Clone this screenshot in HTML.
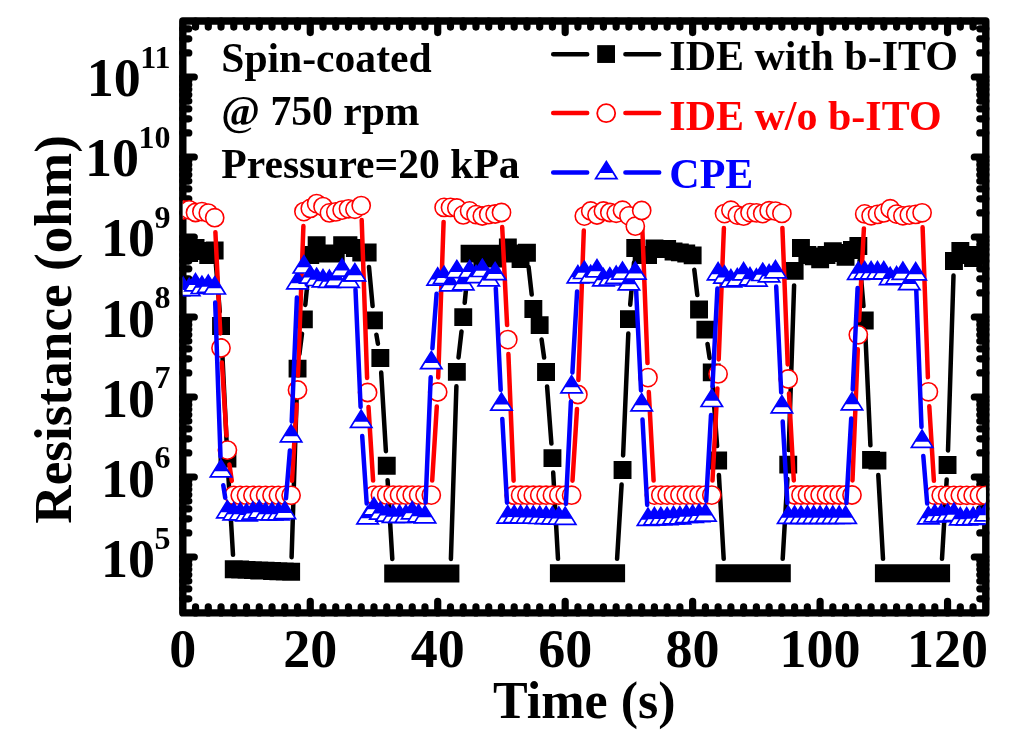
<!DOCTYPE html>
<html><head><meta charset="utf-8"><style>
html,body{margin:0;padding:0;background:#fff;width:1024px;height:746px;overflow:hidden}
svg{display:block}
</style></head><body>
<svg width="1024" height="746" viewBox="0 0 1024 746">
<rect width="1024" height="746" fill="#fff"/>
<defs><clipPath id="pc"><rect x="182.8" y="21.06" width="803.00" height="591.84"/></clipPath></defs>
<g font-family="'Liberation Serif', 'Times New Roman', serif" font-weight="bold">
<rect x="182.8" y="21.06" width="803.00" height="591.84" fill="none" stroke="#000" stroke-width="7.4" stroke-linejoin="round"/>
<path d="M195.55 612.90L195.55 606.90M195.55 21.06L195.55 27.06M208.29 612.90L208.29 606.90M208.29 21.06L208.29 27.06M221.04 612.90L221.04 606.90M221.04 21.06L221.04 27.06M233.78 612.90L233.78 606.90M233.78 21.06L233.78 27.06M246.53 612.90L246.53 606.90M246.53 21.06L246.53 27.06M259.28 612.90L259.28 606.90M259.28 21.06L259.28 27.06M272.02 612.90L272.02 606.90M272.02 21.06L272.02 27.06M284.77 612.90L284.77 606.90M284.77 21.06L284.77 27.06M297.51 612.90L297.51 606.90M297.51 21.06L297.51 27.06M310.26 612.90L310.26 601.40M310.26 21.06L310.26 32.56M323.01 612.90L323.01 606.90M323.01 21.06L323.01 27.06M335.75 612.90L335.75 606.90M335.75 21.06L335.75 27.06M348.50 612.90L348.50 606.90M348.50 21.06L348.50 27.06M361.24 612.90L361.24 606.90M361.24 21.06L361.24 27.06M373.99 612.90L373.99 606.90M373.99 21.06L373.99 27.06M386.74 612.90L386.74 606.90M386.74 21.06L386.74 27.06M399.48 612.90L399.48 606.90M399.48 21.06L399.48 27.06M412.23 612.90L412.23 606.90M412.23 21.06L412.23 27.06M424.97 612.90L424.97 606.90M424.97 21.06L424.97 27.06M437.72 612.90L437.72 601.40M437.72 21.06L437.72 32.56M450.47 612.90L450.47 606.90M450.47 21.06L450.47 27.06M463.21 612.90L463.21 606.90M463.21 21.06L463.21 27.06M475.96 612.90L475.96 606.90M475.96 21.06L475.96 27.06M488.70 612.90L488.70 606.90M488.70 21.06L488.70 27.06M501.45 612.90L501.45 606.90M501.45 21.06L501.45 27.06M514.20 612.90L514.20 606.90M514.20 21.06L514.20 27.06M526.94 612.90L526.94 606.90M526.94 21.06L526.94 27.06M539.69 612.90L539.69 606.90M539.69 21.06L539.69 27.06M552.43 612.90L552.43 606.90M552.43 21.06L552.43 27.06M565.18 612.90L565.18 601.40M565.18 21.06L565.18 32.56M577.93 612.90L577.93 606.90M577.93 21.06L577.93 27.06M590.67 612.90L590.67 606.90M590.67 21.06L590.67 27.06M603.42 612.90L603.42 606.90M603.42 21.06L603.42 27.06M616.16 612.90L616.16 606.90M616.16 21.06L616.16 27.06M628.91 612.90L628.91 606.90M628.91 21.06L628.91 27.06M641.66 612.90L641.66 606.90M641.66 21.06L641.66 27.06M654.40 612.90L654.40 606.90M654.40 21.06L654.40 27.06M667.15 612.90L667.15 606.90M667.15 21.06L667.15 27.06M679.89 612.90L679.89 606.90M679.89 21.06L679.89 27.06M692.64 612.90L692.64 601.40M692.64 21.06L692.64 32.56M705.39 612.90L705.39 606.90M705.39 21.06L705.39 27.06M718.13 612.90L718.13 606.90M718.13 21.06L718.13 27.06M730.88 612.90L730.88 606.90M730.88 21.06L730.88 27.06M743.62 612.90L743.62 606.90M743.62 21.06L743.62 27.06M756.37 612.90L756.37 606.90M756.37 21.06L756.37 27.06M769.12 612.90L769.12 606.90M769.12 21.06L769.12 27.06M781.86 612.90L781.86 606.90M781.86 21.06L781.86 27.06M794.61 612.90L794.61 606.90M794.61 21.06L794.61 27.06M807.35 612.90L807.35 606.90M807.35 21.06L807.35 27.06M820.10 612.90L820.10 601.40M820.10 21.06L820.10 32.56M832.85 612.90L832.85 606.90M832.85 21.06L832.85 27.06M845.59 612.90L845.59 606.90M845.59 21.06L845.59 27.06M858.34 612.90L858.34 606.90M858.34 21.06L858.34 27.06M871.08 612.90L871.08 606.90M871.08 21.06L871.08 27.06M883.83 612.90L883.83 606.90M883.83 21.06L883.83 27.06M896.58 612.90L896.58 606.90M896.58 21.06L896.58 27.06M909.32 612.90L909.32 606.90M909.32 21.06L909.32 27.06M922.07 612.90L922.07 606.90M922.07 21.06L922.07 27.06M934.81 612.90L934.81 606.90M934.81 21.06L934.81 27.06M947.56 612.90L947.56 601.40M947.56 21.06L947.56 32.56M960.31 612.90L960.31 606.90M960.31 21.06L960.31 27.06M973.05 612.90L973.05 606.90M973.05 21.06L973.05 27.06M182.80 598.81L188.80 598.81M985.80 598.81L979.80 598.81M182.80 588.82L188.80 588.82M985.80 588.82L979.80 588.82M182.80 581.06L188.80 581.06M985.80 581.06L979.80 581.06M182.80 574.73L188.80 574.73M985.80 574.73L979.80 574.73M182.80 569.37L188.80 569.37M985.80 569.37L979.80 569.37M182.80 564.74L188.80 564.74M985.80 564.74L979.80 564.74M182.80 560.64L188.80 560.64M985.80 560.64L979.80 560.64M182.80 556.98L194.30 556.98M985.80 556.98L974.30 556.98M182.80 532.90L188.80 532.90M985.80 532.90L979.80 532.90M182.80 518.81L188.80 518.81M985.80 518.81L979.80 518.81M182.80 508.82L188.80 508.82M985.80 508.82L979.80 508.82M182.80 501.06L188.80 501.06M985.80 501.06L979.80 501.06M182.80 494.73L188.80 494.73M985.80 494.73L979.80 494.73M182.80 489.37L188.80 489.37M985.80 489.37L979.80 489.37M182.80 484.74L188.80 484.74M985.80 484.74L979.80 484.74M182.80 480.64L188.80 480.64M985.80 480.64L979.80 480.64M182.80 476.98L194.30 476.98M985.80 476.98L974.30 476.98M182.80 452.90L188.80 452.90M985.80 452.90L979.80 452.90M182.80 438.81L188.80 438.81M985.80 438.81L979.80 438.81M182.80 428.82L188.80 428.82M985.80 428.82L979.80 428.82M182.80 421.06L188.80 421.06M985.80 421.06L979.80 421.06M182.80 414.73L188.80 414.73M985.80 414.73L979.80 414.73M182.80 409.37L188.80 409.37M985.80 409.37L979.80 409.37M182.80 404.74L188.80 404.74M985.80 404.74L979.80 404.74M182.80 400.64L188.80 400.64M985.80 400.64L979.80 400.64M182.80 396.98L194.30 396.98M985.80 396.98L974.30 396.98M182.80 372.90L188.80 372.90M985.80 372.90L979.80 372.90M182.80 358.81L188.80 358.81M985.80 358.81L979.80 358.81M182.80 348.82L188.80 348.82M985.80 348.82L979.80 348.82M182.80 341.06L188.80 341.06M985.80 341.06L979.80 341.06M182.80 334.73L188.80 334.73M985.80 334.73L979.80 334.73M182.80 329.37L188.80 329.37M985.80 329.37L979.80 329.37M182.80 324.74L188.80 324.74M985.80 324.74L979.80 324.74M182.80 320.64L188.80 320.64M985.80 320.64L979.80 320.64M182.80 316.98L194.30 316.98M985.80 316.98L974.30 316.98M182.80 292.90L188.80 292.90M985.80 292.90L979.80 292.90M182.80 278.81L188.80 278.81M985.80 278.81L979.80 278.81M182.80 268.82L188.80 268.82M985.80 268.82L979.80 268.82M182.80 261.06L188.80 261.06M985.80 261.06L979.80 261.06M182.80 254.73L188.80 254.73M985.80 254.73L979.80 254.73M182.80 249.37L188.80 249.37M985.80 249.37L979.80 249.37M182.80 244.74L188.80 244.74M985.80 244.74L979.80 244.74M182.80 240.64L188.80 240.64M985.80 240.64L979.80 240.64M182.80 236.98L194.30 236.98M985.80 236.98L974.30 236.98M182.80 212.90L188.80 212.90M985.80 212.90L979.80 212.90M182.80 198.81L188.80 198.81M985.80 198.81L979.80 198.81M182.80 188.82L188.80 188.82M985.80 188.82L979.80 188.82M182.80 181.06L188.80 181.06M985.80 181.06L979.80 181.06M182.80 174.73L188.80 174.73M985.80 174.73L979.80 174.73M182.80 169.37L188.80 169.37M985.80 169.37L979.80 169.37M182.80 164.74L188.80 164.74M985.80 164.74L979.80 164.74M182.80 160.64L188.80 160.64M985.80 160.64L979.80 160.64M182.80 156.98L194.30 156.98M985.80 156.98L974.30 156.98M182.80 132.90L188.80 132.90M985.80 132.90L979.80 132.90M182.80 118.81L188.80 118.81M985.80 118.81L979.80 118.81M182.80 108.82L188.80 108.82M985.80 108.82L979.80 108.82M182.80 101.06L188.80 101.06M985.80 101.06L979.80 101.06M182.80 94.73L188.80 94.73M985.80 94.73L979.80 94.73M182.80 89.37L188.80 89.37M985.80 89.37L979.80 89.37M182.80 84.74L188.80 84.74M985.80 84.74L979.80 84.74M182.80 80.64L188.80 80.64M985.80 80.64L979.80 80.64M182.80 76.98L194.30 76.98M985.80 76.98L974.30 76.98M182.80 52.90L188.80 52.90M985.80 52.90L979.80 52.90M182.80 38.81L188.80 38.81M985.80 38.81L979.80 38.81M182.80 28.82L188.80 28.82M985.80 28.82L979.80 28.82" stroke="#000" stroke-width="7.2" stroke-linecap="round" fill="none"/>
<g clip-path="url(#pc)">
<path d="M215.9 264.9L219.8 311.6M221.7 340.5L226.7 444.1M228.2 473.1L233.0 554.8M291.6 557.3L297.1 383.1M299.4 354.2L302.0 333.7M305.3 304.9L308.8 269.4M369.0 266.9L372.6 306.0M376.4 334.7L377.9 343.7M381.2 372.5L385.9 451.2M387.6 480.2L392.3 559.0M450.9 559.0L456.4 386.3M458.5 357.4L461.5 331.6M464.7 302.8L468.1 268.0M528.6 267.1L531.7 294.6M541.6 339.6L544.1 357.6M547.1 386.5L551.4 443.6M553.2 472.6L558.0 558.8M617.1 558.8L621.6 484.5M623.1 455.5L628.3 333.6M630.2 304.7L634.0 262.4M694.3 269.7L697.3 295.1M707.5 343.9L709.6 358.0M712.8 386.8L717.1 446.0M718.9 475.0L723.7 558.8M782.7 558.8L787.4 479.1M788.7 450.1L794.1 285.4M859.6 260.4L863.5 306.1M865.4 335.0L870.4 445.3M878.3 475.1L883.0 558.8M942.0 558.8L946.7 479.5M948.0 450.5L953.5 275.5" stroke="#000" stroke-width="4.5" stroke-linecap="round" fill="none"/>
<path d="M173.9 243.1h17.9v17.9h-17.9zM180.2 244.1h17.9v17.9h-17.9zM186.6 239.1h17.9v17.9h-17.9zM193.0 242.1h17.9v17.9h-17.9zM199.3 246.1h17.9v17.9h-17.9zM205.7 241.6h17.9v17.9h-17.9zM212.1 317.1h17.9v17.9h-17.9zM218.5 449.7h17.9v17.9h-17.9zM224.8 560.3h17.9v17.9h-17.9zM231.2 560.6h17.9v17.9h-17.9zM237.6 560.9h17.9v17.9h-17.9zM244.0 561.2h17.9v17.9h-17.9zM250.3 561.5h17.9v17.9h-17.9zM256.7 561.7h17.9v17.9h-17.9zM263.1 562.0h17.9v17.9h-17.9zM269.4 562.3h17.9v17.9h-17.9zM275.8 562.6h17.9v17.9h-17.9zM282.2 562.8h17.9v17.9h-17.9zM288.6 359.7h17.9v17.9h-17.9zM294.9 310.4h17.9v17.9h-17.9zM301.3 246.1h17.9v17.9h-17.9zM307.7 236.2h17.9v17.9h-17.9zM314.1 244.6h17.9v17.9h-17.9zM320.4 244.6h17.9v17.9h-17.9zM326.8 244.6h17.9v17.9h-17.9zM333.2 236.2h17.9v17.9h-17.9zM339.5 236.2h17.9v17.9h-17.9zM345.9 239.1h17.9v17.9h-17.9zM352.3 243.6h17.9v17.9h-17.9zM358.7 243.6h17.9v17.9h-17.9zM365.0 311.4h17.9v17.9h-17.9zM371.4 349.1h17.9v17.9h-17.9zM377.8 456.8h17.9v17.9h-17.9zM384.2 564.5h17.9v17.9h-17.9zM390.5 564.5h17.9v17.9h-17.9zM396.9 564.5h17.9v17.9h-17.9zM403.3 564.5h17.9v17.9h-17.9zM409.7 564.5h17.9v17.9h-17.9zM416.0 564.5h17.9v17.9h-17.9zM422.4 564.5h17.9v17.9h-17.9zM428.8 564.5h17.9v17.9h-17.9zM435.1 564.5h17.9v17.9h-17.9zM441.5 564.5h17.9v17.9h-17.9zM447.9 362.9h17.9v17.9h-17.9zM454.3 308.2h17.9v17.9h-17.9zM460.6 244.7h17.9v17.9h-17.9zM467.0 244.7h17.9v17.9h-17.9zM473.4 249.6h17.9v17.9h-17.9zM479.8 244.7h17.9v17.9h-17.9zM486.1 249.6h17.9v17.9h-17.9zM492.5 244.7h17.9v17.9h-17.9zM498.9 238.4h17.9v17.9h-17.9zM505.2 244.6h17.9v17.9h-17.9zM511.6 250.2h17.9v17.9h-17.9zM518.0 243.8h17.9v17.9h-17.9zM524.4 300.1h17.9v17.9h-17.9zM530.7 316.2h17.9v17.9h-17.9zM537.1 363.1h17.9v17.9h-17.9zM543.5 449.2h17.9v17.9h-17.9zM549.9 564.3h17.9v17.9h-17.9zM556.2 564.3h17.9v17.9h-17.9zM562.6 564.3h17.9v17.9h-17.9zM569.0 564.3h17.9v17.9h-17.9zM575.3 564.3h17.9v17.9h-17.9zM581.7 564.3h17.9v17.9h-17.9zM588.1 564.3h17.9v17.9h-17.9zM594.5 564.3h17.9v17.9h-17.9zM600.8 564.3h17.9v17.9h-17.9zM607.2 564.3h17.9v17.9h-17.9zM613.6 461.1h17.9v17.9h-17.9zM620.0 310.2h17.9v17.9h-17.9zM626.3 239.1h17.9v17.9h-17.9zM632.7 246.1h17.9v17.9h-17.9zM639.1 246.1h17.9v17.9h-17.9zM645.5 239.6h17.9v17.9h-17.9zM651.8 240.1h17.9v17.9h-17.9zM658.2 240.1h17.9v17.9h-17.9zM664.6 242.6h17.9v17.9h-17.9zM670.9 243.4h17.9v17.9h-17.9zM677.3 244.5h17.9v17.9h-17.9zM683.7 246.4h17.9v17.9h-17.9zM690.1 300.6h17.9v17.9h-17.9zM696.4 320.7h17.9v17.9h-17.9zM702.8 363.4h17.9v17.9h-17.9zM709.2 451.6h17.9v17.9h-17.9zM715.6 564.3h17.9v17.9h-17.9zM721.9 564.3h17.9v17.9h-17.9zM728.3 564.3h17.9v17.9h-17.9zM734.7 564.3h17.9v17.9h-17.9zM741.0 564.3h17.9v17.9h-17.9zM747.4 564.3h17.9v17.9h-17.9zM753.8 564.3h17.9v17.9h-17.9zM760.2 564.3h17.9v17.9h-17.9zM766.5 564.3h17.9v17.9h-17.9zM772.9 564.3h17.9v17.9h-17.9zM779.3 455.7h17.9v17.9h-17.9zM785.7 261.9h17.9v17.9h-17.9zM792.0 239.1h17.9v17.9h-17.9zM798.4 246.1h17.9v17.9h-17.9zM804.8 247.4h17.9v17.9h-17.9zM811.2 250.4h17.9v17.9h-17.9zM817.5 246.1h17.9v17.9h-17.9zM823.9 242.2h17.9v17.9h-17.9zM830.3 244.1h17.9v17.9h-17.9zM836.6 247.9h17.9v17.9h-17.9zM843.0 241.1h17.9v17.9h-17.9zM849.4 237.1h17.9v17.9h-17.9zM855.8 311.6h17.9v17.9h-17.9zM862.1 450.9h17.9v17.9h-17.9zM868.5 451.7h17.9v17.9h-17.9zM874.9 564.3h17.9v17.9h-17.9zM881.3 564.3h17.9v17.9h-17.9zM887.6 564.3h17.9v17.9h-17.9zM894.0 564.3h17.9v17.9h-17.9zM900.4 564.3h17.9v17.9h-17.9zM906.7 564.3h17.9v17.9h-17.9zM913.1 564.3h17.9v17.9h-17.9zM919.5 564.3h17.9v17.9h-17.9zM925.9 564.3h17.9v17.9h-17.9zM932.2 564.3h17.9v17.9h-17.9zM938.6 456.1h17.9v17.9h-17.9zM945.0 252.1h17.9v17.9h-17.9zM951.4 242.1h17.9v17.9h-17.9zM957.7 246.1h17.9v17.9h-17.9zM964.1 249.1h17.9v17.9h-17.9zM970.5 246.1h17.9v17.9h-17.9zM976.8 246.1h17.9v17.9h-17.9z" fill="#000"/>
<path d="M215.4 232.2L220.3 333.5M221.9 362.5L226.5 435.6M229.4 464.5L231.8 480.9M292.0 480.8L296.6 404.5M298.0 375.5L303.4 226.1M361.7 220.1L367.1 378.0M368.5 407.0L373.1 480.6M432.2 480.6L436.8 406.5M438.2 377.5L443.6 221.9M502.2 227.0L507.1 325.1M508.4 354.1L513.6 480.7M572.5 480.7L577.0 409.0M578.4 380.0L583.8 230.6M642.2 225.0L647.5 363.1M648.8 392.1L653.6 480.6M712.5 480.6L717.4 388.4M718.7 359.4L723.9 228.1M782.4 227.9L787.7 364.5M789.0 393.5L793.8 480.5M852.5 480.5L857.8 349.3M859.1 320.3L863.9 228.4M922.6 227.3L927.9 377.3M929.3 406.3L933.9 480.8" stroke="#f00" stroke-width="4.5" stroke-linecap="round" fill="none"/>
<g fill="#fff" stroke="#f00" stroke-width="1.6"><circle cx="182.8" cy="210.0" r="9.1"/><circle cx="189.2" cy="209.8" r="9.1"/><circle cx="195.5" cy="212.5" r="9.1"/><circle cx="201.9" cy="211.6" r="9.1"/><circle cx="208.3" cy="213.1" r="9.1"/><circle cx="214.7" cy="217.7" r="9.1"/><circle cx="221.0" cy="348.0" r="9.1"/><circle cx="227.4" cy="450.1" r="9.1"/><circle cx="233.8" cy="495.3" r="9.1"/><circle cx="240.2" cy="495.3" r="9.1"/><circle cx="246.5" cy="495.3" r="9.1"/><circle cx="252.9" cy="495.3" r="9.1"/><circle cx="259.3" cy="495.3" r="9.1"/><circle cx="265.6" cy="495.3" r="9.1"/><circle cx="272.0" cy="495.3" r="9.1"/><circle cx="278.4" cy="495.3" r="9.1"/><circle cx="284.8" cy="495.3" r="9.1"/><circle cx="291.1" cy="495.3" r="9.1"/><circle cx="297.5" cy="390.0" r="9.1"/><circle cx="303.9" cy="211.6" r="9.1"/><circle cx="310.3" cy="208.4" r="9.1"/><circle cx="316.6" cy="203.6" r="9.1"/><circle cx="323.0" cy="206.6" r="9.1"/><circle cx="329.4" cy="212.9" r="9.1"/><circle cx="335.8" cy="211.9" r="9.1"/><circle cx="342.1" cy="210.1" r="9.1"/><circle cx="348.5" cy="208.8" r="9.1"/><circle cx="354.9" cy="209.3" r="9.1"/><circle cx="361.2" cy="205.6" r="9.1"/><circle cx="367.6" cy="392.5" r="9.1"/><circle cx="374.0" cy="495.1" r="9.1"/><circle cx="380.4" cy="495.1" r="9.1"/><circle cx="386.7" cy="495.1" r="9.1"/><circle cx="393.1" cy="495.1" r="9.1"/><circle cx="399.5" cy="495.1" r="9.1"/><circle cx="405.9" cy="495.1" r="9.1"/><circle cx="412.2" cy="495.1" r="9.1"/><circle cx="418.6" cy="495.1" r="9.1"/><circle cx="425.0" cy="495.1" r="9.1"/><circle cx="431.3" cy="495.1" r="9.1"/><circle cx="437.7" cy="392.0" r="9.1"/><circle cx="444.1" cy="207.4" r="9.1"/><circle cx="450.5" cy="207.4" r="9.1"/><circle cx="456.8" cy="208.0" r="9.1"/><circle cx="463.2" cy="214.9" r="9.1"/><circle cx="469.6" cy="210.9" r="9.1"/><circle cx="476.0" cy="214.6" r="9.1"/><circle cx="482.3" cy="216.0" r="9.1"/><circle cx="488.7" cy="214.6" r="9.1"/><circle cx="495.1" cy="214.0" r="9.1"/><circle cx="501.5" cy="212.5" r="9.1"/><circle cx="507.8" cy="339.6" r="9.1"/><circle cx="514.2" cy="495.2" r="9.1"/><circle cx="520.6" cy="495.2" r="9.1"/><circle cx="526.9" cy="495.2" r="9.1"/><circle cx="533.3" cy="495.2" r="9.1"/><circle cx="539.7" cy="495.2" r="9.1"/><circle cx="546.1" cy="495.2" r="9.1"/><circle cx="552.4" cy="495.2" r="9.1"/><circle cx="558.8" cy="495.2" r="9.1"/><circle cx="565.2" cy="495.2" r="9.1"/><circle cx="571.6" cy="495.2" r="9.1"/><circle cx="577.9" cy="394.5" r="9.1"/><circle cx="584.3" cy="216.1" r="9.1"/><circle cx="590.7" cy="211.0" r="9.1"/><circle cx="597.0" cy="215.0" r="9.1"/><circle cx="603.4" cy="211.0" r="9.1"/><circle cx="609.8" cy="212.5" r="9.1"/><circle cx="616.2" cy="213.3" r="9.1"/><circle cx="622.5" cy="210.2" r="9.1"/><circle cx="628.9" cy="215.8" r="9.1"/><circle cx="635.3" cy="226.2" r="9.1"/><circle cx="641.7" cy="210.5" r="9.1"/><circle cx="648.0" cy="377.6" r="9.1"/><circle cx="654.4" cy="495.1" r="9.1"/><circle cx="660.8" cy="495.1" r="9.1"/><circle cx="667.1" cy="495.1" r="9.1"/><circle cx="673.5" cy="495.1" r="9.1"/><circle cx="679.9" cy="495.1" r="9.1"/><circle cx="686.3" cy="495.1" r="9.1"/><circle cx="692.6" cy="495.1" r="9.1"/><circle cx="699.0" cy="495.1" r="9.1"/><circle cx="705.4" cy="495.1" r="9.1"/><circle cx="711.8" cy="495.1" r="9.1"/><circle cx="718.1" cy="373.9" r="9.1"/><circle cx="724.5" cy="213.6" r="9.1"/><circle cx="730.9" cy="210.2" r="9.1"/><circle cx="737.3" cy="215.1" r="9.1"/><circle cx="743.6" cy="216.2" r="9.1"/><circle cx="750.0" cy="212.6" r="9.1"/><circle cx="756.4" cy="212.9" r="9.1"/><circle cx="762.7" cy="213.6" r="9.1"/><circle cx="769.1" cy="210.7" r="9.1"/><circle cx="775.5" cy="211.1" r="9.1"/><circle cx="781.9" cy="213.4" r="9.1"/><circle cx="788.2" cy="379.0" r="9.1"/><circle cx="794.6" cy="495.0" r="9.1"/><circle cx="801.0" cy="495.0" r="9.1"/><circle cx="807.4" cy="495.0" r="9.1"/><circle cx="813.7" cy="495.0" r="9.1"/><circle cx="820.1" cy="495.0" r="9.1"/><circle cx="826.5" cy="495.0" r="9.1"/><circle cx="832.8" cy="495.0" r="9.1"/><circle cx="839.2" cy="495.0" r="9.1"/><circle cx="845.6" cy="495.0" r="9.1"/><circle cx="852.0" cy="495.0" r="9.1"/><circle cx="858.3" cy="334.8" r="9.1"/><circle cx="864.7" cy="213.9" r="9.1"/><circle cx="871.1" cy="215.8" r="9.1"/><circle cx="877.5" cy="214.4" r="9.1"/><circle cx="883.8" cy="212.9" r="9.1"/><circle cx="890.2" cy="208.7" r="9.1"/><circle cx="896.6" cy="214.1" r="9.1"/><circle cx="902.9" cy="215.8" r="9.1"/><circle cx="909.3" cy="215.1" r="9.1"/><circle cx="915.7" cy="214.4" r="9.1"/><circle cx="922.1" cy="212.8" r="9.1"/><circle cx="928.4" cy="391.8" r="9.1"/><circle cx="934.8" cy="495.3" r="9.1"/><circle cx="941.2" cy="495.3" r="9.1"/><circle cx="947.6" cy="495.3" r="9.1"/><circle cx="953.9" cy="495.3" r="9.1"/><circle cx="960.3" cy="495.3" r="9.1"/><circle cx="966.7" cy="495.3" r="9.1"/><circle cx="973.1" cy="495.3" r="9.1"/><circle cx="979.4" cy="495.3" r="9.1"/><circle cx="985.8" cy="495.3" r="9.1"/></g>
<path d="M215.2 302.6L220.5 456.5M223.3 485.3L225.2 497.7M286.0 498.3L289.9 450.5M291.7 421.5L296.9 297.5M355.5 289.5L360.6 407.0M362.2 436.0L366.7 503.5M425.6 502.5L430.7 377.3M432.4 348.3L436.6 293.7M495.8 288.3L500.7 389.9M502.3 418.9L507.0 502.7M565.9 504.0L570.9 401.5M572.4 372.5L577.1 291.5M636.0 287.9L641.0 390.5M642.5 419.5L647.2 505.0M706.2 500.8L711.0 415.1M712.5 386.1L717.4 288.5M776.2 286.5L781.2 392.5M782.7 421.5L787.4 503.0M846.4 503.0L851.2 418.5M852.7 389.5L857.6 288.0M916.2 288.5L921.5 427.0M923.3 455.9L927.2 503.6" stroke="#00f" stroke-width="4.5" stroke-linecap="round" fill="none"/>
<g><path d="M182.8 276.7L193.5 293.9H172.1Z" fill="#fff" stroke="#00f" stroke-width="1.7" stroke-linejoin="miter"/><path d="M182.8 276.7L190.0 288.2H175.6Z" fill="#00f"/><path d="M189.2 278.4L199.9 295.6H178.5Z" fill="#fff" stroke="#00f" stroke-width="1.7" stroke-linejoin="miter"/><path d="M189.2 278.4L196.3 289.9H182.0Z" fill="#00f"/><path d="M195.5 273.6L206.2 290.8H184.8Z" fill="#fff" stroke="#00f" stroke-width="1.7" stroke-linejoin="miter"/><path d="M195.5 273.6L202.7 285.1H188.4Z" fill="#00f"/><path d="M201.9 276.3L212.6 293.5H191.2Z" fill="#fff" stroke="#00f" stroke-width="1.7" stroke-linejoin="miter"/><path d="M201.9 276.3L209.1 287.8H194.7Z" fill="#00f"/><path d="M208.3 275.2L219.0 292.4H197.6Z" fill="#fff" stroke="#00f" stroke-width="1.7" stroke-linejoin="miter"/><path d="M208.3 275.2L215.5 286.7H201.1Z" fill="#00f"/><path d="M214.7 276.8L225.4 294.0H204.0Z" fill="#fff" stroke="#00f" stroke-width="1.7" stroke-linejoin="miter"/><path d="M214.7 276.8L221.8 288.3H207.5Z" fill="#00f"/><path d="M221.0 459.7L231.7 476.9H210.3Z" fill="#fff" stroke="#00f" stroke-width="1.7" stroke-linejoin="miter"/><path d="M221.0 459.7L228.2 471.2H213.9Z" fill="#00f"/><path d="M227.4 500.7L238.1 517.9H216.7Z" fill="#fff" stroke="#00f" stroke-width="1.7" stroke-linejoin="miter"/><path d="M227.4 500.7L234.6 512.2H220.2Z" fill="#00f"/><path d="M233.8 502.7L244.5 519.9H223.1Z" fill="#fff" stroke="#00f" stroke-width="1.7" stroke-linejoin="miter"/><path d="M233.8 502.7L241.0 514.2H226.6Z" fill="#00f"/><path d="M240.2 502.7L250.9 519.9H229.5Z" fill="#fff" stroke="#00f" stroke-width="1.7" stroke-linejoin="miter"/><path d="M240.2 502.7L247.3 514.2H233.0Z" fill="#00f"/><path d="M246.5 503.6L257.2 520.8H235.8Z" fill="#fff" stroke="#00f" stroke-width="1.7" stroke-linejoin="miter"/><path d="M246.5 503.6L253.7 515.1H239.4Z" fill="#00f"/><path d="M252.9 501.9L263.6 519.1H242.2Z" fill="#fff" stroke="#00f" stroke-width="1.7" stroke-linejoin="miter"/><path d="M252.9 501.9L260.1 513.4H245.7Z" fill="#00f"/><path d="M259.3 500.7L270.0 517.9H248.6Z" fill="#fff" stroke="#00f" stroke-width="1.7" stroke-linejoin="miter"/><path d="M259.3 500.7L266.5 512.2H252.1Z" fill="#00f"/><path d="M265.6 502.7L276.3 519.9H254.9Z" fill="#fff" stroke="#00f" stroke-width="1.7" stroke-linejoin="miter"/><path d="M265.6 502.7L272.8 514.2H258.5Z" fill="#00f"/><path d="M272.0 502.7L282.7 519.9H261.3Z" fill="#fff" stroke="#00f" stroke-width="1.7" stroke-linejoin="miter"/><path d="M272.0 502.7L279.2 514.2H264.8Z" fill="#00f"/><path d="M278.4 502.7L289.1 519.9H267.7Z" fill="#fff" stroke="#00f" stroke-width="1.7" stroke-linejoin="miter"/><path d="M278.4 502.7L285.6 514.2H271.2Z" fill="#00f"/><path d="M284.8 501.5L295.5 518.6H274.1Z" fill="#fff" stroke="#00f" stroke-width="1.7" stroke-linejoin="miter"/><path d="M284.8 501.5L291.9 513.0H277.6Z" fill="#00f"/><path d="M291.1 424.7L301.8 441.9H280.4Z" fill="#fff" stroke="#00f" stroke-width="1.7" stroke-linejoin="miter"/><path d="M291.1 424.7L298.3 436.2H284.0Z" fill="#00f"/><path d="M297.5 271.7L308.2 288.9H286.8Z" fill="#fff" stroke="#00f" stroke-width="1.7" stroke-linejoin="miter"/><path d="M297.5 271.7L304.7 283.2H290.3Z" fill="#00f"/><path d="M303.9 255.8L314.6 273.0H293.2Z" fill="#fff" stroke="#00f" stroke-width="1.7" stroke-linejoin="miter"/><path d="M303.9 255.8L311.1 267.3H296.7Z" fill="#00f"/><path d="M310.3 266.0L321.0 283.2H299.6Z" fill="#fff" stroke="#00f" stroke-width="1.7" stroke-linejoin="miter"/><path d="M310.3 266.0L317.4 277.5H303.1Z" fill="#00f"/><path d="M316.6 268.3L327.3 285.5H305.9Z" fill="#fff" stroke="#00f" stroke-width="1.7" stroke-linejoin="miter"/><path d="M316.6 268.3L323.8 279.8H309.5Z" fill="#00f"/><path d="M323.0 269.7L333.7 286.9H312.3Z" fill="#fff" stroke="#00f" stroke-width="1.7" stroke-linejoin="miter"/><path d="M323.0 269.7L330.2 281.2H315.8Z" fill="#00f"/><path d="M329.4 270.2L340.1 287.4H318.7Z" fill="#fff" stroke="#00f" stroke-width="1.7" stroke-linejoin="miter"/><path d="M329.4 270.2L336.6 281.7H322.2Z" fill="#00f"/><path d="M335.8 269.0L346.5 286.2H325.1Z" fill="#fff" stroke="#00f" stroke-width="1.7" stroke-linejoin="miter"/><path d="M335.8 269.0L342.9 280.5H328.6Z" fill="#00f"/><path d="M342.1 258.9L352.8 276.1H331.4Z" fill="#fff" stroke="#00f" stroke-width="1.7" stroke-linejoin="miter"/><path d="M342.1 258.9L349.3 270.4H335.0Z" fill="#00f"/><path d="M348.5 270.2L359.2 287.4H337.8Z" fill="#fff" stroke="#00f" stroke-width="1.7" stroke-linejoin="miter"/><path d="M348.5 270.2L355.7 281.7H341.3Z" fill="#00f"/><path d="M354.9 263.7L365.6 280.9H344.2Z" fill="#fff" stroke="#00f" stroke-width="1.7" stroke-linejoin="miter"/><path d="M354.9 263.7L362.0 275.2H347.7Z" fill="#00f"/><path d="M361.2 410.2L371.9 427.4H350.5Z" fill="#fff" stroke="#00f" stroke-width="1.7" stroke-linejoin="miter"/><path d="M361.2 410.2L368.4 421.7H354.1Z" fill="#00f"/><path d="M367.6 506.7L378.3 523.9H356.9Z" fill="#fff" stroke="#00f" stroke-width="1.7" stroke-linejoin="miter"/><path d="M367.6 506.7L374.8 518.2H360.4Z" fill="#00f"/><path d="M374.0 497.7L384.7 514.9H363.3Z" fill="#fff" stroke="#00f" stroke-width="1.7" stroke-linejoin="miter"/><path d="M374.0 497.7L381.2 509.2H366.8Z" fill="#00f"/><path d="M380.4 502.1L391.1 519.2H369.7Z" fill="#fff" stroke="#00f" stroke-width="1.7" stroke-linejoin="miter"/><path d="M380.4 502.1L387.5 513.6H373.2Z" fill="#00f"/><path d="M386.7 504.1L397.4 521.2H376.0Z" fill="#fff" stroke="#00f" stroke-width="1.7" stroke-linejoin="miter"/><path d="M386.7 504.1L393.9 515.6H379.6Z" fill="#00f"/><path d="M393.1 505.2L403.8 522.4H382.4Z" fill="#fff" stroke="#00f" stroke-width="1.7" stroke-linejoin="miter"/><path d="M393.1 505.2L400.3 516.7H385.9Z" fill="#00f"/><path d="M399.5 505.2L410.2 522.4H388.8Z" fill="#fff" stroke="#00f" stroke-width="1.7" stroke-linejoin="miter"/><path d="M399.5 505.2L406.7 516.7H392.3Z" fill="#00f"/><path d="M405.9 505.2L416.6 522.4H395.2Z" fill="#fff" stroke="#00f" stroke-width="1.7" stroke-linejoin="miter"/><path d="M405.9 505.2L413.0 516.7H398.7Z" fill="#00f"/><path d="M412.2 501.7L422.9 518.9H401.5Z" fill="#fff" stroke="#00f" stroke-width="1.7" stroke-linejoin="miter"/><path d="M412.2 501.7L419.4 513.2H405.1Z" fill="#00f"/><path d="M418.6 504.7L429.3 521.9H407.9Z" fill="#fff" stroke="#00f" stroke-width="1.7" stroke-linejoin="miter"/><path d="M418.6 504.7L425.8 516.2H411.4Z" fill="#00f"/><path d="M425.0 505.7L435.7 522.9H414.3Z" fill="#fff" stroke="#00f" stroke-width="1.7" stroke-linejoin="miter"/><path d="M425.0 505.7L432.1 517.2H417.8Z" fill="#00f"/><path d="M431.3 351.5L442.0 368.7H420.6Z" fill="#fff" stroke="#00f" stroke-width="1.7" stroke-linejoin="miter"/><path d="M431.3 351.5L438.5 363.0H424.2Z" fill="#00f"/><path d="M437.7 267.9L448.4 285.1H427.0Z" fill="#fff" stroke="#00f" stroke-width="1.7" stroke-linejoin="miter"/><path d="M437.7 267.9L444.9 279.4H430.5Z" fill="#00f"/><path d="M444.1 266.4L454.8 283.6H433.4Z" fill="#fff" stroke="#00f" stroke-width="1.7" stroke-linejoin="miter"/><path d="M444.1 266.4L451.3 277.9H436.9Z" fill="#00f"/><path d="M450.5 273.7L461.2 290.9H439.8Z" fill="#fff" stroke="#00f" stroke-width="1.7" stroke-linejoin="miter"/><path d="M450.5 273.7L457.6 285.2H443.3Z" fill="#00f"/><path d="M456.8 260.5L467.5 277.7H446.1Z" fill="#fff" stroke="#00f" stroke-width="1.7" stroke-linejoin="miter"/><path d="M456.8 260.5L464.0 272.0H449.7Z" fill="#00f"/><path d="M463.2 272.7L473.9 289.9H452.5Z" fill="#fff" stroke="#00f" stroke-width="1.7" stroke-linejoin="miter"/><path d="M463.2 272.7L470.4 284.2H456.0Z" fill="#00f"/><path d="M469.6 260.5L480.3 277.7H458.9Z" fill="#fff" stroke="#00f" stroke-width="1.7" stroke-linejoin="miter"/><path d="M469.6 260.5L476.8 272.0H462.4Z" fill="#00f"/><path d="M476.0 265.5L486.7 282.7H465.3Z" fill="#fff" stroke="#00f" stroke-width="1.7" stroke-linejoin="miter"/><path d="M476.0 265.5L483.1 277.0H468.8Z" fill="#00f"/><path d="M482.3 259.3L493.0 276.5H471.6Z" fill="#fff" stroke="#00f" stroke-width="1.7" stroke-linejoin="miter"/><path d="M482.3 259.3L489.5 270.8H475.2Z" fill="#00f"/><path d="M488.7 268.7L499.4 285.9H478.0Z" fill="#fff" stroke="#00f" stroke-width="1.7" stroke-linejoin="miter"/><path d="M488.7 268.7L495.9 280.2H481.5Z" fill="#00f"/><path d="M495.1 262.5L505.8 279.7H484.4Z" fill="#fff" stroke="#00f" stroke-width="1.7" stroke-linejoin="miter"/><path d="M495.1 262.5L502.3 274.0H487.9Z" fill="#00f"/><path d="M501.5 393.1L512.2 410.2H490.8Z" fill="#fff" stroke="#00f" stroke-width="1.7" stroke-linejoin="miter"/><path d="M501.5 393.1L508.6 404.6H494.3Z" fill="#00f"/><path d="M507.8 505.9L518.5 523.1H497.1Z" fill="#fff" stroke="#00f" stroke-width="1.7" stroke-linejoin="miter"/><path d="M507.8 505.9L515.0 517.4H500.6Z" fill="#00f"/><path d="M514.2 505.5L524.9 522.6H503.5Z" fill="#fff" stroke="#00f" stroke-width="1.7" stroke-linejoin="miter"/><path d="M514.2 505.5L521.4 517.0H507.0Z" fill="#00f"/><path d="M520.6 505.7L531.3 522.9H509.9Z" fill="#fff" stroke="#00f" stroke-width="1.7" stroke-linejoin="miter"/><path d="M520.6 505.7L527.7 517.2H513.4Z" fill="#00f"/><path d="M526.9 505.9L537.6 523.1H516.2Z" fill="#fff" stroke="#00f" stroke-width="1.7" stroke-linejoin="miter"/><path d="M526.9 505.9L534.1 517.4H519.8Z" fill="#00f"/><path d="M533.3 506.1L544.0 523.2H522.6Z" fill="#fff" stroke="#00f" stroke-width="1.7" stroke-linejoin="miter"/><path d="M533.3 506.1L540.5 517.6H526.1Z" fill="#00f"/><path d="M539.7 506.3L550.4 523.5H529.0Z" fill="#fff" stroke="#00f" stroke-width="1.7" stroke-linejoin="miter"/><path d="M539.7 506.3L546.9 517.8H532.5Z" fill="#00f"/><path d="M546.1 506.5L556.8 523.6H535.4Z" fill="#fff" stroke="#00f" stroke-width="1.7" stroke-linejoin="miter"/><path d="M546.1 506.5L553.2 518.0H538.9Z" fill="#00f"/><path d="M552.4 506.7L563.1 523.9H541.7Z" fill="#fff" stroke="#00f" stroke-width="1.7" stroke-linejoin="miter"/><path d="M552.4 506.7L559.6 518.2H545.3Z" fill="#00f"/><path d="M558.8 507.0L569.5 524.1H548.1Z" fill="#fff" stroke="#00f" stroke-width="1.7" stroke-linejoin="miter"/><path d="M558.8 507.0L566.0 518.5H551.6Z" fill="#00f"/><path d="M565.2 507.2L575.9 524.4H554.5Z" fill="#fff" stroke="#00f" stroke-width="1.7" stroke-linejoin="miter"/><path d="M565.2 507.2L572.4 518.7H558.0Z" fill="#00f"/><path d="M571.6 375.7L582.3 392.9H560.9Z" fill="#fff" stroke="#00f" stroke-width="1.7" stroke-linejoin="miter"/><path d="M571.6 375.7L578.7 387.2H564.4Z" fill="#00f"/><path d="M577.9 265.7L588.6 282.9H567.2Z" fill="#fff" stroke="#00f" stroke-width="1.7" stroke-linejoin="miter"/><path d="M577.9 265.7L585.1 277.2H570.8Z" fill="#00f"/><path d="M584.3 261.3L595.0 278.5H573.6Z" fill="#fff" stroke="#00f" stroke-width="1.7" stroke-linejoin="miter"/><path d="M584.3 261.3L591.5 272.8H577.1Z" fill="#00f"/><path d="M590.7 265.4L601.4 282.6H580.0Z" fill="#fff" stroke="#00f" stroke-width="1.7" stroke-linejoin="miter"/><path d="M590.7 265.4L597.8 276.9H583.5Z" fill="#00f"/><path d="M597.0 259.7L607.7 276.9H586.3Z" fill="#fff" stroke="#00f" stroke-width="1.7" stroke-linejoin="miter"/><path d="M597.0 259.7L604.2 271.2H589.9Z" fill="#00f"/><path d="M603.4 268.7L614.1 285.9H592.7Z" fill="#fff" stroke="#00f" stroke-width="1.7" stroke-linejoin="miter"/><path d="M603.4 268.7L610.6 280.2H596.2Z" fill="#00f"/><path d="M609.8 267.8L620.5 285.0H599.1Z" fill="#fff" stroke="#00f" stroke-width="1.7" stroke-linejoin="miter"/><path d="M609.8 267.8L617.0 279.3H602.6Z" fill="#00f"/><path d="M616.2 266.2L626.9 283.4H605.5Z" fill="#fff" stroke="#00f" stroke-width="1.7" stroke-linejoin="miter"/><path d="M616.2 266.2L623.3 277.7H609.0Z" fill="#00f"/><path d="M622.5 262.1L633.2 279.2H611.8Z" fill="#fff" stroke="#00f" stroke-width="1.7" stroke-linejoin="miter"/><path d="M622.5 262.1L629.7 273.6H615.4Z" fill="#00f"/><path d="M628.9 272.7L639.6 289.9H618.2Z" fill="#fff" stroke="#00f" stroke-width="1.7" stroke-linejoin="miter"/><path d="M628.9 272.7L636.1 284.2H621.7Z" fill="#00f"/><path d="M635.3 262.1L646.0 279.2H624.6Z" fill="#fff" stroke="#00f" stroke-width="1.7" stroke-linejoin="miter"/><path d="M635.3 262.1L642.5 273.6H628.1Z" fill="#00f"/><path d="M641.7 393.7L652.4 410.9H631.0Z" fill="#fff" stroke="#00f" stroke-width="1.7" stroke-linejoin="miter"/><path d="M641.7 393.7L648.8 405.2H634.5Z" fill="#00f"/><path d="M648.0 508.2L658.7 525.4H637.3Z" fill="#fff" stroke="#00f" stroke-width="1.7" stroke-linejoin="miter"/><path d="M648.0 508.2L655.2 519.7H640.9Z" fill="#00f"/><path d="M654.4 507.7L665.1 524.9H643.7Z" fill="#fff" stroke="#00f" stroke-width="1.7" stroke-linejoin="miter"/><path d="M654.4 507.7L661.6 519.2H647.2Z" fill="#00f"/><path d="M660.8 507.5L671.5 524.6H650.1Z" fill="#fff" stroke="#00f" stroke-width="1.7" stroke-linejoin="miter"/><path d="M660.8 507.5L667.9 519.0H653.6Z" fill="#00f"/><path d="M667.1 507.5L677.8 524.6H656.4Z" fill="#fff" stroke="#00f" stroke-width="1.7" stroke-linejoin="miter"/><path d="M667.1 507.5L674.3 519.0H660.0Z" fill="#00f"/><path d="M673.5 506.7L684.2 523.9H662.8Z" fill="#fff" stroke="#00f" stroke-width="1.7" stroke-linejoin="miter"/><path d="M673.5 506.7L680.7 518.2H666.3Z" fill="#00f"/><path d="M679.9 506.7L690.6 523.9H669.2Z" fill="#fff" stroke="#00f" stroke-width="1.7" stroke-linejoin="miter"/><path d="M679.9 506.7L687.1 518.2H672.7Z" fill="#00f"/><path d="M686.3 505.3L697.0 522.5H675.6Z" fill="#fff" stroke="#00f" stroke-width="1.7" stroke-linejoin="miter"/><path d="M686.3 505.3L693.4 516.8H679.1Z" fill="#00f"/><path d="M692.6 505.3L703.3 522.5H681.9Z" fill="#fff" stroke="#00f" stroke-width="1.7" stroke-linejoin="miter"/><path d="M692.6 505.3L699.8 516.8H685.5Z" fill="#00f"/><path d="M699.0 504.4L709.7 521.6H688.3Z" fill="#fff" stroke="#00f" stroke-width="1.7" stroke-linejoin="miter"/><path d="M699.0 504.4L706.2 515.9H691.8Z" fill="#00f"/><path d="M705.4 504.0L716.1 521.1H694.7Z" fill="#fff" stroke="#00f" stroke-width="1.7" stroke-linejoin="miter"/><path d="M705.4 504.0L712.6 515.5H698.2Z" fill="#00f"/><path d="M711.8 389.3L722.5 406.5H701.1Z" fill="#fff" stroke="#00f" stroke-width="1.7" stroke-linejoin="miter"/><path d="M711.8 389.3L718.9 400.8H704.6Z" fill="#00f"/><path d="M718.1 262.7L728.8 279.9H707.4Z" fill="#fff" stroke="#00f" stroke-width="1.7" stroke-linejoin="miter"/><path d="M718.1 262.7L725.3 274.2H711.0Z" fill="#00f"/><path d="M724.5 265.9L735.2 283.1H713.8Z" fill="#fff" stroke="#00f" stroke-width="1.7" stroke-linejoin="miter"/><path d="M724.5 265.9L731.7 277.4H717.3Z" fill="#00f"/><path d="M730.9 269.7L741.6 286.9H720.2Z" fill="#fff" stroke="#00f" stroke-width="1.7" stroke-linejoin="miter"/><path d="M730.9 269.7L738.1 281.2H723.7Z" fill="#00f"/><path d="M737.3 268.7L748.0 285.9H726.6Z" fill="#fff" stroke="#00f" stroke-width="1.7" stroke-linejoin="miter"/><path d="M737.3 268.7L744.4 280.2H730.1Z" fill="#00f"/><path d="M743.6 262.7L754.3 279.9H732.9Z" fill="#fff" stroke="#00f" stroke-width="1.7" stroke-linejoin="miter"/><path d="M743.6 262.7L750.8 274.2H736.4Z" fill="#00f"/><path d="M750.0 267.7L760.7 284.9H739.3Z" fill="#fff" stroke="#00f" stroke-width="1.7" stroke-linejoin="miter"/><path d="M750.0 267.7L757.2 279.2H742.8Z" fill="#00f"/><path d="M756.4 268.9L767.1 286.1H745.7Z" fill="#fff" stroke="#00f" stroke-width="1.7" stroke-linejoin="miter"/><path d="M756.4 268.9L763.5 280.4H749.2Z" fill="#00f"/><path d="M762.7 263.3L773.4 280.5H752.0Z" fill="#fff" stroke="#00f" stroke-width="1.7" stroke-linejoin="miter"/><path d="M762.7 263.3L769.9 274.8H755.6Z" fill="#00f"/><path d="M769.1 264.7L779.8 281.9H758.4Z" fill="#fff" stroke="#00f" stroke-width="1.7" stroke-linejoin="miter"/><path d="M769.1 264.7L776.3 276.2H761.9Z" fill="#00f"/><path d="M775.5 260.7L786.2 277.9H764.8Z" fill="#fff" stroke="#00f" stroke-width="1.7" stroke-linejoin="miter"/><path d="M775.5 260.7L782.7 272.2H768.3Z" fill="#00f"/><path d="M781.9 395.7L792.6 412.9H771.2Z" fill="#fff" stroke="#00f" stroke-width="1.7" stroke-linejoin="miter"/><path d="M781.9 395.7L789.0 407.2H774.7Z" fill="#00f"/><path d="M788.2 506.2L798.9 523.4H777.5Z" fill="#fff" stroke="#00f" stroke-width="1.7" stroke-linejoin="miter"/><path d="M788.2 506.2L795.4 517.7H781.1Z" fill="#00f"/><path d="M794.6 506.2L805.3 523.4H783.9Z" fill="#fff" stroke="#00f" stroke-width="1.7" stroke-linejoin="miter"/><path d="M794.6 506.2L801.8 517.7H787.4Z" fill="#00f"/><path d="M801.0 506.2L811.7 523.4H790.3Z" fill="#fff" stroke="#00f" stroke-width="1.7" stroke-linejoin="miter"/><path d="M801.0 506.2L808.2 517.7H793.8Z" fill="#00f"/><path d="M807.4 506.2L818.1 523.4H796.7Z" fill="#fff" stroke="#00f" stroke-width="1.7" stroke-linejoin="miter"/><path d="M807.4 506.2L814.5 517.7H800.2Z" fill="#00f"/><path d="M813.7 506.2L824.4 523.4H803.0Z" fill="#fff" stroke="#00f" stroke-width="1.7" stroke-linejoin="miter"/><path d="M813.7 506.2L820.9 517.7H806.6Z" fill="#00f"/><path d="M820.1 506.2L830.8 523.4H809.4Z" fill="#fff" stroke="#00f" stroke-width="1.7" stroke-linejoin="miter"/><path d="M820.1 506.2L827.3 517.7H812.9Z" fill="#00f"/><path d="M826.5 506.2L837.2 523.4H815.8Z" fill="#fff" stroke="#00f" stroke-width="1.7" stroke-linejoin="miter"/><path d="M826.5 506.2L833.6 517.7H819.3Z" fill="#00f"/><path d="M832.8 506.2L843.5 523.4H822.1Z" fill="#fff" stroke="#00f" stroke-width="1.7" stroke-linejoin="miter"/><path d="M832.8 506.2L840.0 517.7H825.7Z" fill="#00f"/><path d="M839.2 506.2L849.9 523.4H828.5Z" fill="#fff" stroke="#00f" stroke-width="1.7" stroke-linejoin="miter"/><path d="M839.2 506.2L846.4 517.7H832.0Z" fill="#00f"/><path d="M845.6 506.2L856.3 523.4H834.9Z" fill="#fff" stroke="#00f" stroke-width="1.7" stroke-linejoin="miter"/><path d="M845.6 506.2L852.8 517.7H838.4Z" fill="#00f"/><path d="M852.0 392.7L862.7 409.9H841.3Z" fill="#fff" stroke="#00f" stroke-width="1.7" stroke-linejoin="miter"/><path d="M852.0 392.7L859.1 404.2H844.8Z" fill="#00f"/><path d="M858.3 262.2L869.0 279.4H847.6Z" fill="#fff" stroke="#00f" stroke-width="1.7" stroke-linejoin="miter"/><path d="M858.3 262.2L865.5 273.7H851.2Z" fill="#00f"/><path d="M864.7 261.7L875.4 278.9H854.0Z" fill="#fff" stroke="#00f" stroke-width="1.7" stroke-linejoin="miter"/><path d="M864.7 261.7L871.9 273.2H857.5Z" fill="#00f"/><path d="M871.1 261.7L881.8 278.9H860.4Z" fill="#fff" stroke="#00f" stroke-width="1.7" stroke-linejoin="miter"/><path d="M871.1 261.7L878.3 273.2H863.9Z" fill="#00f"/><path d="M877.5 261.7L888.2 278.9H866.8Z" fill="#fff" stroke="#00f" stroke-width="1.7" stroke-linejoin="miter"/><path d="M877.5 261.7L884.6 273.2H870.3Z" fill="#00f"/><path d="M883.8 261.7L894.5 278.9H873.1Z" fill="#fff" stroke="#00f" stroke-width="1.7" stroke-linejoin="miter"/><path d="M883.8 261.7L891.0 273.2H876.7Z" fill="#00f"/><path d="M890.2 267.4L900.9 284.6H879.5Z" fill="#fff" stroke="#00f" stroke-width="1.7" stroke-linejoin="miter"/><path d="M890.2 267.4L897.4 278.9H883.0Z" fill="#00f"/><path d="M896.6 266.7L907.3 283.9H885.9Z" fill="#fff" stroke="#00f" stroke-width="1.7" stroke-linejoin="miter"/><path d="M896.6 266.7L903.8 278.2H889.4Z" fill="#00f"/><path d="M902.9 262.2L913.6 279.4H892.2Z" fill="#fff" stroke="#00f" stroke-width="1.7" stroke-linejoin="miter"/><path d="M902.9 262.2L910.1 273.7H895.8Z" fill="#00f"/><path d="M909.3 272.5L920.0 289.7H898.6Z" fill="#fff" stroke="#00f" stroke-width="1.7" stroke-linejoin="miter"/><path d="M909.3 272.5L916.5 284.0H902.1Z" fill="#00f"/><path d="M915.7 262.7L926.4 279.9H905.0Z" fill="#fff" stroke="#00f" stroke-width="1.7" stroke-linejoin="miter"/><path d="M915.7 262.7L922.9 274.2H908.5Z" fill="#00f"/><path d="M922.1 430.2L932.8 447.4H911.4Z" fill="#fff" stroke="#00f" stroke-width="1.7" stroke-linejoin="miter"/><path d="M922.1 430.2L929.2 441.7H914.9Z" fill="#00f"/><path d="M928.4 506.7L939.1 523.9H917.7Z" fill="#fff" stroke="#00f" stroke-width="1.7" stroke-linejoin="miter"/><path d="M928.4 506.7L935.6 518.2H921.3Z" fill="#00f"/><path d="M934.8 504.7L945.5 521.9H924.1Z" fill="#fff" stroke="#00f" stroke-width="1.7" stroke-linejoin="miter"/><path d="M934.8 504.7L942.0 516.2H927.6Z" fill="#00f"/><path d="M941.2 504.5L951.9 521.6H930.5Z" fill="#fff" stroke="#00f" stroke-width="1.7" stroke-linejoin="miter"/><path d="M941.2 504.5L948.4 516.0H934.0Z" fill="#00f"/><path d="M947.6 504.0L958.3 521.1H936.9Z" fill="#fff" stroke="#00f" stroke-width="1.7" stroke-linejoin="miter"/><path d="M947.6 504.0L954.7 515.5H940.4Z" fill="#00f"/><path d="M953.9 503.3L964.6 520.5H943.2Z" fill="#fff" stroke="#00f" stroke-width="1.7" stroke-linejoin="miter"/><path d="M953.9 503.3L961.1 514.8H946.8Z" fill="#00f"/><path d="M960.3 507.7L971.0 524.9H949.6Z" fill="#fff" stroke="#00f" stroke-width="1.7" stroke-linejoin="miter"/><path d="M960.3 507.7L967.5 519.2H953.1Z" fill="#00f"/><path d="M966.7 507.7L977.4 524.9H956.0Z" fill="#fff" stroke="#00f" stroke-width="1.7" stroke-linejoin="miter"/><path d="M966.7 507.7L973.9 519.2H959.5Z" fill="#00f"/><path d="M973.1 507.3L983.8 524.5H962.4Z" fill="#fff" stroke="#00f" stroke-width="1.7" stroke-linejoin="miter"/><path d="M973.1 507.3L980.2 518.8H965.9Z" fill="#00f"/><path d="M979.4 506.7L990.1 523.9H968.7Z" fill="#fff" stroke="#00f" stroke-width="1.7" stroke-linejoin="miter"/><path d="M979.4 506.7L986.6 518.2H972.3Z" fill="#00f"/><path d="M985.8 503.7L996.5 520.9H975.1Z" fill="#fff" stroke="#00f" stroke-width="1.7" stroke-linejoin="miter"/><path d="M985.8 503.7L993.0 515.2H978.6Z" fill="#00f"/></g>
</g>
<text x="170.5" y="577.1" font-size="54" text-anchor="end">10<tspan font-size="32" dx="-0.5" dy="-28.5">5</tspan></text>
<text x="170.5" y="496.9" font-size="54" text-anchor="end">10<tspan font-size="32" dx="-0.5" dy="-28.5">6</tspan></text>
<text x="170.5" y="416.7" font-size="54" text-anchor="end">10<tspan font-size="32" dx="-0.5" dy="-28.5">7</tspan></text>
<text x="170.5" y="336.5" font-size="54" text-anchor="end">10<tspan font-size="32" dx="-0.5" dy="-28.5">8</tspan></text>
<text x="170.5" y="256.3" font-size="54" text-anchor="end">10<tspan font-size="32" dx="-0.5" dy="-28.5">9</tspan></text>
<text x="170.5" y="176.2" font-size="54" text-anchor="end">10<tspan font-size="32" dx="-0.5" dy="-28.5">10</tspan></text>
<text x="170.5" y="96.0" font-size="54" text-anchor="end">10<tspan font-size="32" dx="-0.5" dy="-28.5">11</tspan></text>
<text x="182.8" y="666.8" font-size="54" text-anchor="middle">0</text>
<text x="310.3" y="666.8" font-size="54" text-anchor="middle">20</text>
<text x="437.7" y="666.8" font-size="54" text-anchor="middle">40</text>
<text x="565.2" y="666.8" font-size="54" text-anchor="middle">60</text>
<text x="692.6" y="666.8" font-size="54" text-anchor="middle">80</text>
<text x="820.1" y="666.8" font-size="54" text-anchor="middle">100</text>
<text x="947.6" y="666.8" font-size="54" text-anchor="middle">120</text>
<text x="584.3" y="717.9" font-size="52" text-anchor="middle">Time (s)</text>
<text transform="translate(71.2 329.4) rotate(-90)" font-size="53.2" text-anchor="middle">Resistance (ohm)</text>
<text x="221.3" y="72.1" font-size="41.6">Spin-coated</text>
<text x="221.3" y="124.8" font-size="41.6">@ 750 rpm</text>
<text x="221.3" y="178.1" font-size="41.6">Pressure=20 kPa</text>
<g stroke-linecap="round" stroke-width="4.5"><path d="M553.2 54.2H587.2M625.4 54.2H659.2" stroke="#000"/><rect x="597.2" y="45.15" width="17.8" height="17.8" fill="#000" stroke="none"/><path d="M553.2 113H587.2M625.4 113H659.2" stroke="#f00"/><circle cx="606.2" cy="113.2" r="9" fill="#fff" stroke="#f00" stroke-width="1.8"/><path d="M553.2 172.5H587.2M625.4 172.5H659.2" stroke="#00f"/></g><path d="M606.3 161.5L617.0 178.7H595.6Z" fill="#fff" stroke="#00f" stroke-width="1.7" stroke-linejoin="miter"/><path d="M606.3 161.5L613.5 173.0H599.1Z" fill="#00f"/><text x="669.3" y="70.2" font-size="42" fill="#000">IDE with b-ITO</text>
<text x="669.3" y="129.5" font-size="42" fill="#f00">IDE w/o b-ITO</text>
<text x="669.3" y="188.4" font-size="42" fill="#00f">CPE</text>
</g></svg>
</body></html>
